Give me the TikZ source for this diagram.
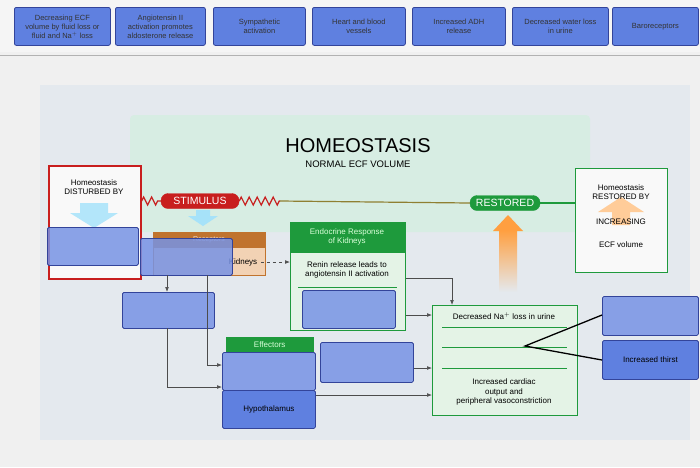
\documentclass[tikz,border=0pt]{standalone}
\usepackage{fontspec}
\setmainfont{Liberation Sans}
\usetikzlibrary{positioning,decorations.pathmorphing,arrows.meta}
\definecolor{tileblue}{HTML}{5F80E0}
\definecolor{tileedge}{HTML}{33449A}
\definecolor{mint}{HTML}{D7EDE3}
\definecolor{panel}{HTML}{E4E9EE}
\definecolor{grn}{HTML}{1E9A3C}
\definecolor{paleg}{HTML}{E4F3E6}
\definecolor{redd}{HTML}{C81E1E}
\definecolor{brn}{HTML}{C0732E}
\definecolor{peach}{HTML}{F2D2B4}
\tikzset{
    tile/.style={draw=tileedge, fill=tileblue, rounded corners=2pt, line width=0.8pt,
        align=center, font=\fontsize{7.5}{9}\selectfont, text=black!80, anchor=north west, inner sep=1pt},
    blank/.style={draw=tileedge, fill=tileblue!85, fill opacity=0.85, line width=0.8pt,
        rounded corners=1.5pt, anchor=north west},
    gbox/.style={draw=grn, line width=1.2pt, fill=paleg, anchor=north west},
    small/.style={font=\fontsize{8}{9.5}\selectfont, align=center},
    arr/.style={-{Latex[length=5pt]}, draw=black!70, line width=0.6pt}
}
\begin{document}
\begin{tikzpicture}[x=1pt,y=-1pt]
    \useasboundingbox[fill=gray!12] (0,0) rectangle (700,467);
    \fill[white!92!gray] (0,0) rectangle (700,52);
    \draw[gray!60, line width=1pt] (0,55) -- (700,55);
    \fill[panel] (40,85) rectangle (690,440);
    \fill[mint, rounded corners=4pt] (130,115) rectangle (590,232);

    % answer tiles
    \node[tile, minimum width=96, minimum height=38] (t1) at (14,7) {Decreasing ECF\\volume by fluid loss or\\fluid and Na$^+$ loss};
    \node[tile, minimum width=90, minimum height=38] (t2) at (115,7) {Angiotensin II\\activation promotes\\aldosterone release};
    \node[tile, minimum width=92, minimum height=38] (t3) at (213,7) {Sympathetic\\activation};
    \node[tile, minimum width=93, minimum height=38] (t4) at (312,7) {Heart and blood\\vessels};
    \node[tile, minimum width=93, minimum height=38] (t5) at (412,7) {Increased ADH\\release};
    \node[tile, minimum width=96, minimum height=38] (t6) at (512,7) {Decreased water loss\\in urine};
    \node[tile, minimum width=86, minimum height=38] (t7) at (612,7) {Baroreceptors};

    % title
    \node[font=\fontsize{20}{22}\selectfont] (title) at (358,146) {HOMEOSTASIS};
    \node[font=\fontsize{9.5}{11}\selectfont, below=1pt of title] (normal) {NORMAL ECF VOLUME};

    % disturbed side
    \node[draw=redd, line width=1.6pt, fill=white!95!gray, minimum width=92, minimum height=113, anchor=north west] (dist) at (48,165) {};
    \node[small] (distt) at (94,187) {Homeostasis\\DISTURBED BY};
    \fill[cyan!30] (80,203) -- (108,203) -- (108,213) -- (118,213) -- (94,228) -- (70,213) -- (80,213) -- cycle;
    \node[blank, minimum width=91, minimum height=38] (b1) at (47,227) {};

    % stimulus / restored line
    \node[draw=redd, fill=redd, rounded corners=7pt, text=white, font=\fontsize{10.5}{12}\selectfont, minimum width=78, minimum height=15] (stim) at (200,201) {STIMULUS};
    \node[draw=grn, fill=grn, rounded corners=7pt, text=white, font=\fontsize{10.5}{12}\selectfont, minimum width=70, minimum height=15] (rest) at (505,203) {RESTORED};
    \draw[redd, line width=1.2pt, decorate, decoration={zigzag, amplitude=4pt, segment length=8pt}] (dist.east |- stim) -- (stim.west);
    \draw[redd, line width=1.2pt, decorate, decoration={zigzag, amplitude=4pt, segment length=8pt}] (stim.east) -- (280,201);
    \draw[brn!70!grn, line width=1.2pt] (280,201) -- (rest.west);
    \fill[cyan!35] (196,210) -- (210,210) -- (210,216) -- (218,216) -- (203,226) -- (188,216) -- (196,216) -- cycle;

    % restored box
    \node[gbox, fill=white!95!gray, minimum width=92, minimum height=104] (restb) at (575,168) {};
    \draw[grn, line width=1.2pt] (rest.east) -- (restb.west |- rest);
    \fill[orange!40] (612,225) -- (612,212) -- (598,212) -- (621,197) -- (644,212) -- (630,212) -- (630,225) -- cycle;
    \node[small] (restt) at (621,192) {Homeostasis\\RESTORED BY};
    \node[small] (incr) at (621,222) {INCREASING};
    \node[small] (ecf) at (621,245) {ECF volume};
    \shade[top color=orange!75, bottom color=panel] (499,230) rectangle (517,292);
    \fill[orange!75] (493,231) -- (508,215) -- (523,231) -- cycle;

    % receptors
    \node[draw=brn, fill=peach, minimum width=112, minimum height=43, anchor=north west] (rec) at (153,232) {};
    \fill[brn] (153,232) rectangle (265,248);
    \node[font=\fontsize{7}{8}\selectfont, text=white!80!brn] (rect) at (209,240) {Receptors};
    \node[font=\fontsize{8}{9.5}\selectfont] (kid) at (243,262) {Kidneys};
    \node[blank, minimum width=92, minimum height=37] (b2) at (140,238) {};

    % endocrine
    \node[gbox, minimum width=115, minimum height=108] (endo) at (290,222) {};
    \fill[grn] (290,222) rectangle (405,253);
    \node[small, text=white!85!green] (endot) at (347,237) {Endocrine Response\\of Kidneys};
    \node[small] (renin) at (347,270) {Renin release leads to\\angiotensin II activation};
    \draw[grn, line width=0.8pt] (298,287) -- (397,287);
    \node[blank, minimum width=93, minimum height=38] (b3) at (302,290) {};
    \draw[arr, dashed] (kid.east) -- (endo.west |- kid);

    % left chain
    \node[blank, minimum width=92, minimum height=36] (b4) at (122,292) {};
    \node[draw=grn, fill=grn, text=white!85!green, font=\fontsize{8}{9.5}\selectfont, minimum width=87, minimum height=15, anchor=north west, inner sep=0pt] (eff) at (226,337) {Effectors};
    \node[blank, minimum width=93, minimum height=38] (b5) at (222,352) {};
    \node[draw=tileedge, fill=tileblue, line width=0.8pt, rounded corners=1.5pt, font=\fontsize{8}{9.5}\selectfont, minimum width=93, minimum height=38, anchor=north west] (hyp) at (222,390) {Hypothalamus};
    \node[blank, minimum width=93, minimum height=40] (b6) at (320,342) {};
    \coordinate (s1) at (167,275);
    \coordinate (s2) at (207,275);
    \coordinate (s3) at (167,328);
    \draw[arr] (s1) -- (s1 |- b4.north);
    \draw[arr] (s2) |- (b5.west |- 0,365);
    \draw[arr] (s3) |- (hyp.west |- 0,387);

    % effect box
    \node[gbox, minimum width=145, minimum height=110] (eb) at (432,305) {};
    \node[small] (dna) at (504,316) {Decreased Na$^+$ loss in urine};
    \foreach \yy in {327,347,368}
        \draw[grn, line width=0.8pt] (442,\yy) -- (567,\yy);
    \node[small] (card) at (504,392) {Increased cardiac\\output and\\peripheral vasoconstriction};
    \draw[arr] (endo.east |- 0,278) -| (452,305);
    \draw[arr] (endo.east |- 0,315) -- (eb.west |- 0,315);
    \draw[arr] (b6.east |- 0,368) -- (eb.west |- 0,368);
    \draw[arr] (hyp.east |- 0,395) -- (eb.west |- 0,395);

    % thirst boxes
    \node[blank, minimum width=96, minimum height=39] (b7) at (602,296) {};
    \node[draw=tileedge, fill=tileblue, line width=0.8pt, rounded corners=1.5pt, font=\fontsize{8}{9.5}\selectfont, minimum width=96, minimum height=39, anchor=north west] (thirst) at (602,340) {Increased thirst};
    \coordinate (fork) at (525,346);
    \draw[black, line width=1.3pt] (b7.west |- 0,315) -- (fork) -- (thirst.west |- 0,360);
\end{tikzpicture}
\end{document}
